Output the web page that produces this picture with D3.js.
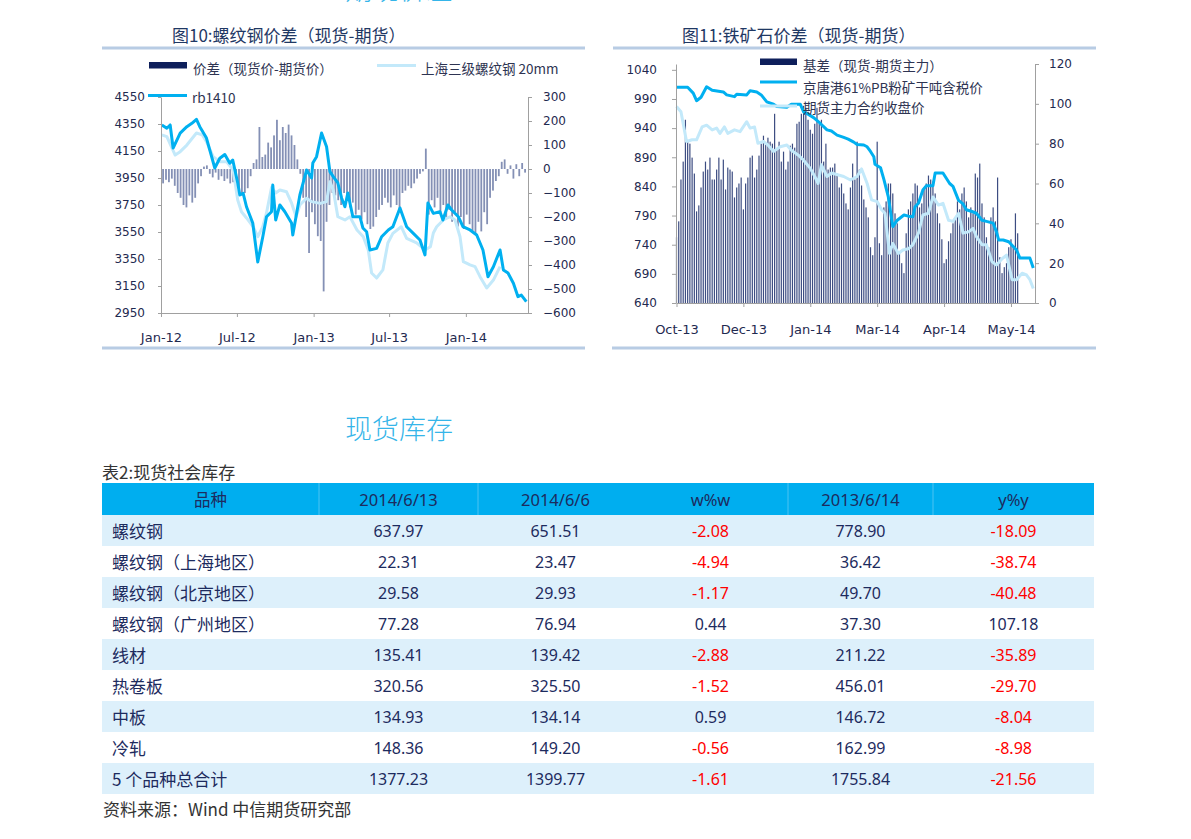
<!DOCTYPE html>
<html>
<head>
<meta charset="utf-8">
<script src="https://cdn.jsdelivr.net/npm/d3@7"></script>
<style>
  body { margin: 0; background: #fff; }
  svg text { font-family: 'Noto Sans CJK SC', sans-serif; }
  .axis text { font-family: 'DejaVu Sans', sans-serif; fill: #1f2a50; }
  .axis path, .axis line { stroke: #a0a0a0; }
</style>
</head>
<body>
<svg width="1191" height="839"></svg>
<script>
// ---------- 图10 data ----------
var fig10Ticks = ["2012-01-01", "2012-07-01", "2013-01-01", "2013-07-01", "2014-01-01"];
var fig10LeftTicks = [2950, 3150, 3350, 3550, 3750, 3950, 4150, 4350, 4550];
var fig10RightTicks = [-600, -500, -400, -300, -200, -100, 0, 100, 200, 300];

// rb1410
var fig10Rebar = [["2012-01-03",4343],["2012-01-15",4318],["2012-01-23",4343],["2012-01-30",4172],["2012-02-16",4283],
  ["2012-03-03",4330],["2012-03-15",4355],["2012-03-26",4385],["2012-04-03",4330],["2012-04-19",4246],["2012-04-27",4157],
  ["2012-05-09",4024],["2012-05-21",4096],["2012-06-02",4124],["2012-06-14",4059],["2012-06-21",4083],["2012-07-03",3913],
  ["2012-07-08",3824],["2012-07-16",3837],["2012-07-24",3737],["2012-08-08",3617],["2012-08-20",3328],["2012-09-01",3513],
  ["2012-09-10",3663],["2012-09-22",3700],["2012-09-25",3898],["2012-10-02",3639],["2012-10-12",3750],["2012-10-24",3700],
  ["2012-11-09",3617],["2012-11-12",3528],["2012-11-29",3824],["2012-12-15",4009],["2012-12-27",3950],["2012-12-30",4061],
  ["2013-01-08",4108],["2013-01-20",4283],["2013-02-01",4181],["2013-02-09",3997],["2013-02-17",3960],["2013-02-28",3913],
  ["2013-03-09",3802],["2013-03-17",3737],["2013-03-24",3839],["2013-04-05",3663],["2013-04-22",3663],["2013-04-29",3580],
  ["2013-05-08",3552],["2013-05-16",3417],["2013-06-01",3429],["2013-06-13",3515],["2013-06-29",3565],["2013-07-10",3589],
  ["2013-07-27",3728],["2013-08-12",3589],["2013-08-28",3540],["2013-09-13",3491],["2013-09-25",3380],["2013-10-02",3765],
  ["2013-10-15",3688],["2013-10-31",3700],["2013-11-07",3639],["2013-11-19",3750],["2013-11-28",3713],["2013-12-14",3663],
  ["2013-12-25",3589],["2014-01-11",3565],["2014-01-27",3528],["2014-02-11",3417],["2014-02-23",3219],["2014-03-08",3293],
  ["2014-03-24",3417],["2014-04-01",3269],["2014-04-12",3246],["2014-04-25",3170],["2014-05-06",3071],["2014-05-14",3083],
  ["2014-05-26",3034]];

// 上海三级螺纹钢 20mm
var fig10Spot = [["2012-01-03",4269],["2012-01-15",4256],["2012-02-04",4120],["2012-02-16",4145],["2012-03-03",4194],
  ["2012-03-26",4283],["2012-04-09",4269],["2012-04-19",4219],["2012-05-05",4108],["2012-05-21",4071],["2012-06-06",4071],
  ["2012-06-22",4009],["2012-07-03",3787],["2012-07-12",3700],["2012-07-24",3654],["2012-08-09",3589],["2012-08-20",3515],
  ["2012-09-01",3589],["2012-09-10",3691],["2012-09-22",3880],["2012-10-02",3839],["2012-10-12",3861],["2012-10-28",3848],
  ["2012-11-09",3765],["2012-11-20",3663],["2012-11-29",3750],["2012-12-15",3800],["2012-12-27",3775],["2013-01-17",3762],
  ["2013-02-01",3775],["2013-02-09",3923],["2013-02-17",3861],["2013-02-28",3663],["2013-03-17",3639],["2013-03-29",3663],
  ["2013-04-15",3565],["2013-04-30",3515],["2013-05-12",3417],["2013-05-20",3246],["2013-06-01",3209],["2013-06-16",3269],
  ["2013-06-28",3469],["2013-07-10",3540],["2013-07-30",3589],["2013-08-12",3503],["2013-09-05",3469],["2013-09-25",3417],
  ["2013-10-08",3441],["2013-10-15",3543],["2013-10-23",3589],["2013-11-08",3639],["2013-11-24",3663],["2013-12-06",3639],
  ["2013-12-18",3515],["2013-12-26",3330],["2014-01-11",3306],["2014-01-23",3293],["2014-02-04",3219],["2014-02-20",3135],
  ["2014-03-08",3194],["2014-03-24",3293]];

// 价差 (weekly, right axis)
var fig10SpreadStart = "2012-01-06";
var fig10Spread = [-60,-45,-55,-40,-70,-100,-120,-150,-160,-110,-140,-120,-60,-30,10,15,-20,-35,-15,-45,
  -30,-50,-40,-60,-55,-45,-90,-110,-100,-80,-30,25,40,175,50,60,110,90,140,205,
  120,175,150,185,140,100,40,-20,-120,-200,-350,-180,-230,-280,-300,-510,-220,-150,-100,-110,
  -130,-150,-100,-130,-160,-140,-190,-170,-210,-180,-230,-250,-240,-200,-170,-150,-120,-140,-160,-110,
  -150,-175,-100,-90,-70,-80,-60,-40,-20,-10,85,-190,-130,-160,-120,-180,-150,-200,-170,-220,
  -180,-240,-200,-250,-190,-230,-260,-270,-220,-260,-180,-230,-120,-90,-50,-30,30,40,-20,15,
  -40,20,-30,25,-15];

// ---------- 图11 data ----------
var fig11TickIdx = [0, 30, 60, 90, 120, 150];
var fig11TickLabels = ["Oct-13", "Dec-13", "Jan-14", "Mar-14", "Apr-14", "May-14"];
var fig11LeftTicks = [640, 690, 740, 790, 840, 890, 940, 990, 1040];
var fig11RightTicks = [0, 20, 40, 60, 80, 100, 120];

// 基差（现货-期货主力）, one per trading day
var fig11Basis = [33,null,41,62,71,92,81,80,73,65,46,null,49,58,66,71,67,73,62,62,
  67,73,62,72,57,68,67,66,53,58,60,63,47,60,63,73,74,63,67,74,
  80,84,80,83,81,80,95,77,81,71,76,67,71,79,80,78,90,91,95,99,
  98,92,87,85,90,98,90,92,71,80,67,68,null,null,null,68,null,70,65,58,
  60,55,50,47,58,70,62,81,67,59,52,48,43,28,24,33,81,30,24,48,
  51,60,60,55,45,40,25,20,15,null,35,47,51,55,60,59,48,50,58,60,
  64,62,61,55,45,40,32,20,22,31,35,40,43,51,47,55,58,51,43,48,
  45,65,63,70,50,43,33,28,43,48,41,63,23,15,18,20,28,32,28,45,35];

// 京唐港61%PB粉矿干吨含税价
var fig11Spot = [[0,1010],[5,1010],[7.5,1000],[9,987],[11,993],[13.5,1011],[16,1005],[21,1002],[22.5,997],[26,994],
  [27,998],[31.5,997],[33,1004],[36,1002],[38,997],[40.5,985],[43.5,981],[45,977],[49.5,976],[51.5,981],[55.5,981],
  [57,968],[59,964],[61.5,958],[64.5,948],[67.5,937],[69.5,935],[72,928],[75,924],[77,921],[79.5,916],[81,912],
  [84,911],[85.5,908],[87,900],[88.5,891],[89,878],[91.5,872],[93,852],[95,822],[97,771],[99,782],[102,791],
  [104,789],[106,788],[107,805],[108.5,811],[110.5,834],[112,841],[115,841],[116,863],[119.5,863],[120.5,857],
  [122.5,845],[124,840],[126.5,816],[128.5,810],[130,800],[132.5,797],[134.5,794],[137,782],[139,780],[142,777],
  [143.5,762],[144.5,748],[146.5,748],[149,745],[151,737],[152.5,731],[154,717],[158.5,717],[160,700]];

// 期货主力合约收盘价
var fig11Futures = [[0,977],[2,968],[4.5,917],[7,920],[9,920],[11.5,942],[13.5,945],[16,937],[18,940],[19.5,931],
  [21.5,942],[23,931],[26,937],[28.5,934],[31.5,951],[33,940],[35,942],[36.5,914],[39,917],[41,911],[43.5,900],
  [46.5,908],[49.5,911],[51.5,902],[54.5,894],[57,885],[60,871],[62,857],[63.5,845],[65,877],[67.5,857],[69.5,863],
  [75,857],[78,851],[81,857],[83,870],[85.5,845],[87.5,817],[90,814],[92,800],[93.5,794],[95.5,725],[97,742],
  [99.5,725],[101.5,731],[104,733],[106,740],[108.5,760],[110.5,791],[113,794],[115,822],[117.5,808],[119.5,811],
  [122,782],[124,780],[126.5,794],[128.5,760],[131,762],[133,768],[134.5,754],[137,740],[139,740],[141.5,711],
  [143.5,705],[146,716],[148,722],[150.5,680],[152.5,680],[155,691],[157,688],[158.5,680],[160,665]];

// ---------- 表2 data ----------
var tableHeader = ["品种", "2014/6/13", "2014/6/6", "w%w", "2013/6/14", "y%y"];
var tableNames = ["螺纹钢", "螺纹钢（上海地区）", "螺纹钢（北京地区）", "螺纹钢（广州地区）", "线材", "热卷板", "中板", "冷轧", "5 个品种总合计"];
var tableThisWeek = ["637.97", "22.31", "29.58", "77.28", "135.41", "320.56", "134.93", "148.36", "1377.23"];
var tableLastWeek = ["651.51", "23.47", "29.93", "76.94", "139.42", "325.50", "134.14", "149.20", "1399.77"];
var tableWoW = ["-2.08", "-4.94", "-1.17", "0.44", "-2.88", "-1.52", "0.59", "-0.56", "-1.61"];
var tableLastYear = ["778.90", "36.42", "49.70", "37.30", "211.22", "456.01", "146.72", "162.99", "1755.84"];
var tableYoY = ["-18.09", "-38.74", "-40.48", "107.18", "-35.89", "-29.70", "-8.04", "-8.98", "-21.56"];

var svg = d3.select("svg");
var parse = d3.timeParse("%Y-%m-%d");
var blue = "#00b0f0";
var light = "#c3e9fa";
var plain = d3.format("d");

svg.append("rect").attr("width", 1191).attr("height", 839).attr("fill", "#fff");

// heading of the previous section, cut by the page top in the reference
svg.append("text").attr("x", 345).attr("y", 0)
  .attr("font-size", 27).attr("font-weight", 300).attr("fill", "#35b5e9").text("期现价差");

function rule(x1, x2, y) {
  svg.append("line").attr("x1", x1).attr("x2", x2).attr("y1", y).attr("y2", y)
    .attr("stroke", "#b8cce4").attr("stroke-width", 3);
}

function title(x, txt) {
  svg.append("text").attr("x", x).attr("y", 34).attr("dominant-baseline", "central")
    .attr("font-size", 17).attr("fill", "#1f3864").text(txt);
}

function legendText(x, y, txt) {
  svg.append("text").attr("x", x).attr("y", y).attr("dominant-baseline", "central")
    .attr("font-size", 13.5).attr("fill", "#2e3452").text(txt);
}

// ================= 图10 =================
title(172, "图10:螺纹钢价差（现货-期货）");
rule(102, 585, 48);
rule(102, 585, 348);

var x10 = d3.scaleTime().domain([parse("2012-01-01"), parse("2014-05-30")]).range([161, 528]);
var yL10 = d3.scaleLinear().domain([2950, 4550]).range([313, 97]);
var yR10 = d3.scaleLinear().domain([-600, 300]).range([313, 97]);

var start10 = parse(fig10SpreadStart);
svg.append("g").selectAll("rect")
  .data(fig10Spread)
  .enter().append("rect")
  .attr("x", function (d, i) { return x10(d3.timeWeek.offset(start10, i)) - 0.9; })
  .attr("y", function (d) { return yR10(Math.max(0, d)); })
  .attr("width", 1.8)
  .attr("height", function (d) { return Math.abs(yR10(d) - yR10(0)); })
  .attr("fill", "#8490b5");

var line10 = d3.line()
  .x(function (d) { return x10(parse(d[0])); })
  .y(function (d) { return yL10(d[1]); });

svg.append("path").datum(fig10Spot).attr("d", line10)
  .attr("fill", "none").attr("stroke", light).attr("stroke-width", 3).attr("stroke-linejoin", "round");
svg.append("path").datum(fig10Rebar).attr("d", line10)
  .attr("fill", "none").attr("stroke", blue).attr("stroke-width", 3).attr("stroke-linejoin", "round");

svg.append("g").attr("class", "axis").attr("transform", "translate(161,0)")
  .call(d3.axisLeft(yL10).tickValues(fig10LeftTicks).tickFormat(plain).tickSize(3).tickSizeOuter(0).tickPadding(13))
  .selectAll("text").attr("font-size", 12);
svg.append("g").attr("class", "axis").attr("transform", "translate(528,0)")
  .call(d3.axisRight(yR10).tickValues(fig10RightTicks).tickFormat(plain).tickSize(4).tickSizeOuter(0).tickPadding(11))
  .selectAll("text").attr("font-size", 12);
svg.append("g").attr("class", "axis").attr("transform", "translate(0,313)")
  .call(d3.axisBottom(x10).tickValues(fig10Ticks.map(parse)).tickFormat(d3.timeFormat("%b-%y"))
    .tickSize(4).tickSizeOuter(0).tickPadding(16))
  .selectAll("text").attr("font-size", 13);

// legend
svg.append("rect").attr("x", 149).attr("y", 62).attr("width", 38).attr("height", 6.5).attr("fill", "#0e1f5b");
legendText(193, 68, "价差（现货价-期货价）");
svg.append("line").attr("x1", 377).attr("x2", 416).attr("y1", 65.5).attr("y2", 65.5)
  .attr("stroke", light).attr("stroke-width", 3);
legendText(421, 68, "上海三级螺纹钢 20mm");
svg.append("line").attr("x1", 148).attr("x2", 187).attr("y1", 95.5).attr("y2", 95.5)
  .attr("stroke", blue).attr("stroke-width", 3);
legendText(192, 97, "rb1410");

// ================= 图11 =================
title(682, "图11:铁矿石价差（现货-期货）");
rule(613, 1096, 48);
rule(612, 1096, 348);

var x11 = d3.scaleLinear().domain([0, 161]).range([676.5, 1035.5]);
var yL11 = d3.scaleLinear().domain([640, 1050]).range([303, 64]);
var yR11 = d3.scaleLinear().domain([0, 120]).range([303, 64]);

svg.append("g").selectAll("rect")
  .data(fig11Basis)
  .enter().append("rect")
  .filter(function (d) { return d !== null; })
  .attr("x", function (d, i) { return x11(i) - 0.6; })
  .attr("y", function (d) { return yR11(d); })
  .attr("width", 1.2)
  .attr("height", function (d) { return yR11(0) - yR11(d); })
  .attr("fill", "#3d4d82");

var line11 = d3.line()
  .x(function (d) { return x11(d[0]); })
  .y(function (d) { return yL11(d[1]); });

svg.append("path").datum(fig11Futures).attr("d", line11)
  .attr("fill", "none").attr("stroke", light).attr("stroke-width", 3).attr("stroke-linejoin", "round");
svg.append("path").datum(fig11Spot).attr("d", line11)
  .attr("fill", "none").attr("stroke", blue).attr("stroke-width", 3).attr("stroke-linejoin", "round");

svg.append("g").attr("class", "axis").attr("transform", "translate(676,0)")
  .call(d3.axisLeft(yL11).tickValues(fig11LeftTicks).tickFormat(plain).tickSize(4).tickSizeOuter(0).tickPadding(15))
  .selectAll("text").attr("font-size", 12);
svg.append("g").attr("class", "axis").attr("transform", "translate(1035,0)")
  .call(d3.axisRight(yR11).tickValues(fig11RightTicks).tickFormat(plain).tickSize(4).tickSizeOuter(0).tickPadding(10))
  .selectAll("text").attr("font-size", 12);
svg.append("g").attr("class", "axis").attr("transform", "translate(0,303)")
  .call(d3.axisBottom(x11).tickValues(fig11TickIdx)
    .tickFormat(function (d, i) { return fig11TickLabels[i]; })
    .tickSize(4).tickSizeOuter(0).tickPadding(18))
  .selectAll("text").attr("font-size", 13);

svg.append("rect").attr("x", 760).attr("y", 58.5).attr("width", 37).attr("height", 6.5).attr("fill", "#0e1f5b");
legendText(803, 64.5, "基差（现货-期货主力）");
svg.append("line").attr("x1", 760).attr("x2", 797).attr("y1", 82).attr("y2", 82)
  .attr("stroke", blue).attr("stroke-width", 3);
legendText(803, 86.5, "京唐港61%PB粉矿干吨含税价");
svg.append("line").attr("x1", 760).attr("x2", 797).attr("y1", 106).attr("y2", 106)
  .attr("stroke", light).attr("stroke-width", 3);
legendText(803, 107, "期货主力合约收盘价");

// ================= 现货库存 table =================
svg.append("text").attr("x", 345).attr("y", 427).attr("dominant-baseline", "central")
  .attr("font-size", 27).attr("font-weight", 300).attr("fill", "#35b5e9").text("现货库存");

svg.append("text").attr("x", 102).attr("y", 471).attr("dominant-baseline", "central")
  .attr("font-size", 17).attr("fill", "#333").text("表2:现货社会库存");

var colEdges = [102, 319, 478, 633, 788, 933, 1094];
var headTop = 483, headH = 32, rowH = 31;
var rowTop = d3.scaleLinear().domain([0, 1]).range([headTop + headH, headTop + headH + rowH]);

svg.append("rect").attr("x", colEdges[0]).attr("y", headTop)
  .attr("width", colEdges[6] - colEdges[0]).attr("height", headH).attr("fill", "#00aeef");
[1, 2, 4, 5].forEach(function (c) {
  svg.append("line").attr("x1", colEdges[c]).attr("x2", colEdges[c])
    .attr("y1", headTop).attr("y2", headTop + headH).attr("stroke", "#4cc3f2").attr("stroke-width", 1);
});
svg.append("g").selectAll("text").data(tableHeader).enter().append("text")
  .attr("x", function (d, i) { return (colEdges[i] + colEdges[i + 1]) / 2; })
  .attr("y", headTop + headH / 2)
  .attr("text-anchor", "middle").attr("dominant-baseline", "central")
  .attr("font-size", 16.5).attr("fill", "#1d2b5e")
  .style("font-family", function (d, i) { return i === 0 ? "'Noto Sans CJK SC'" : "'Noto Sans'"; })
  .text(function (d) { return d; });

var rows = tableNames.map(function (n, i) {
  return [n, tableThisWeek[i], tableLastWeek[i], tableWoW[i], tableLastYear[i], tableYoY[i]];
});

var rowG = svg.append("g").selectAll("g").data(rows).enter().append("g")
  .attr("transform", function (d, i) { return "translate(0," + rowTop(i) + ")"; });

rowG.append("rect").attr("x", colEdges[0]).attr("width", colEdges[6] - colEdges[0]).attr("height", rowH)
  .attr("fill", function (d, i) { return i % 2 === 0 ? "#ddf0fb" : "#fff"; });

rowG.selectAll("text").data(function (d) { return d; }).enter().append("text")
  .attr("x", function (d, i) { return i === 0 ? 112 : (colEdges[i] + colEdges[i + 1]) / 2; })
  .attr("y", rowH / 2)
  .attr("text-anchor", function (d, i) { return i === 0 ? "start" : "middle"; })
  .attr("dominant-baseline", "central")
  .attr("font-size", function (d, i) { return i === 0 ? 17 : 16; })
  .style("font-family", function (d, i) { return i === 0 ? "'Noto Sans CJK SC'" : "'Noto Sans'"; })
  .attr("fill", function (d, i) {
    return (i === 3 || i === 5) && d.charAt(0) === "-" ? "#ff0000" : "#1d2b5e";
  })
  .text(function (d) { return d; });

svg.append("text").attr("x", 103).attr("y", 808).attr("dominant-baseline", "central")
  .attr("font-size", 17).attr("fill", "#333").text("资料来源：Wind 中信期货研究部");
</script>
</body>
</html>
